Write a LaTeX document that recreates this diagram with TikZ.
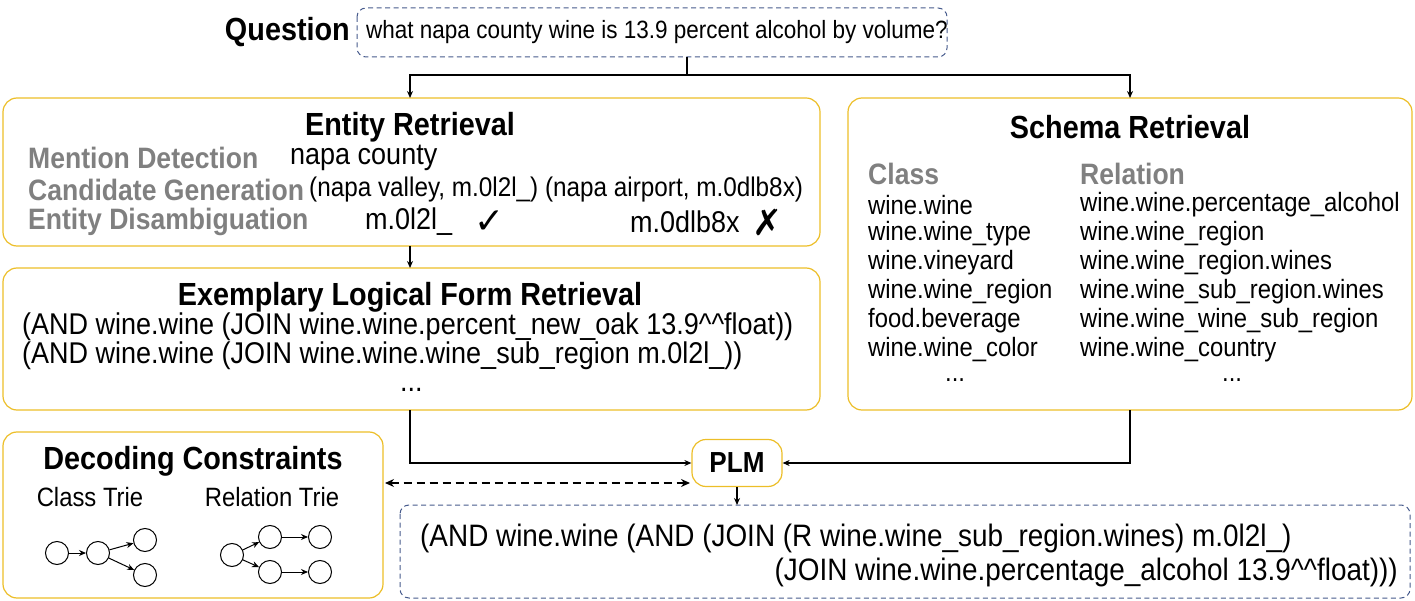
\documentclass[tikz,border=0pt]{standalone}
\usepackage{fontspec}
\setmainfont{Liberation Sans}[FakeStretch=0.9]
\newfontfamily\sym{DejaVu Sans}
\usetikzlibrary{arrows.meta}
\definecolor{yel}{RGB}{236,190,40}
\definecolor{blu}{RGB}{70,90,140}
\definecolor{gr}{RGB}{128,128,128}
\newcommand\fs[1]{\fontsize{#1}{#1}\selectfont}
\tikzset{
 ybox/.style={draw=yel,line width=1.2pt,rounded corners=14pt},
 dbox/.style={draw=blu,dash pattern=on 5pt off 3.5pt,line width=1pt,rounded corners=9pt},
 arr/.style={-{Stealth[length=7pt,width=6pt]},line width=1.2pt},
 lbl/.style={inner sep=0,anchor=west},
 ttl/.style={inner sep=0,font=\fs{32}\bfseries},
 gl/.style={lbl,text=gr,font=\fs{29.5}\bfseries},
 tx/.style={lbl,font=\fs{30}},
 sm/.style={lbl,font=\fs{26.5}},
 cir/.style={draw,circle,minimum size=23pt,inner sep=0,line width=1pt},
 tarr/.style={-{Stealth[length=7pt,width=6pt]},line width=1pt}
}
\begin{document}
\begin{tikzpicture}[x=1pt,y=-1pt]
\useasboundingbox (0,0) rectangle (1415,601);
% question
\node[ttl,anchor=east] (ql) at (350,32) {Question};
\draw[dbox] (357,8) rectangle (947,57);
\node[lbl,font=\fs{25}] (q) at (366,32) {what napa county wine is 13.9 percent alcohol by volume?};
\coordinate (qb) at (687,57);
\coordinate (qj) at (687,75);
% boxes
\draw[ybox] (3,98) rectangle (820,246);
\draw[ybox] (848,98) rectangle (1412,410);
\draw[ybox] (3,268) rectangle (820,410);
\draw[ybox] (3,432) rectangle (383,598);
\node[ybox,minimum width=90pt,minimum height=47pt,font=\fs{29}\bfseries] (plm) at (737,463) {PLM};
\draw[dbox] (400,505) rectangle (1410,598);
% connectors
\coordinate (eT) at (410,98); \coordinate (sT) at (1130,98);
\draw[line width=1.2pt] (qb) -- (qj);
\draw[arr] (qj) -| (eT);
\draw[arr] (qj) -| (sT);
\coordinate (eB) at (410,246); \coordinate (xT) at (410,268);
\draw[arr] (eB) -- (xT);
\coordinate (xB) at (410,410); \coordinate (sB) at (1130,410);
\draw[arr] (xB) |- (plm.west);
\draw[arr] (sB) |- (plm.east);
\coordinate (dR) at (385,483); \coordinate (pL) at (690,483);
\draw[{Stealth[length=9pt,width=8pt]}-{Stealth[length=9pt,width=8pt]},dash pattern=on 8pt off 5pt,line width=1.3pt] (dR) -- (pL);
\coordinate (oT) at (737,505);
\draw[arr] (plm.south) -- (oT);
% entity retrieval
\node[ttl] (et) at (410,127) {Entity Retrieval};
\node[gl] at (28,158) {Mention Detection};
\node[tx] at (290,158) {napa county};
\node[gl] at (28,190) {Candidate Generation};
\node[lbl,font=\fs{27}] at (309,190) {(napa valley, m.0l2l\_) (napa airport, m.0dlb8x)};
\node[gl] at (28,222) {Entity Disambiguation};
\node[tx] at (365,222) {m.0l2l\_};
\node[lbl,font=\fs{36}\sym] at (474,222) {✓};
\node[tx] at (630,222) {m.0dlb8x};
\node[lbl,font=\fs{36}\sym\bfseries] at (752,222) {✗};
% schema
\node[ttl] at (1130,127) {Schema Retrieval};
\node[gl] at (868,174) {Class};
\node[gl] at (1080,174) {Relation};
\foreach \t [count=\i] in {wine.wine,wine.wine\_type,wine.vineyard,wine.wine\_region,food.beverage,wine.wine\_color}
  \node[sm] at (868,176+\i*29) {\t};
\foreach \t [count=\i] in {wine.wine.percentage\_alcohol,wine.wine\_region,wine.wine\_region.wines,wine.wine\_sub\_region.wines,wine.wine\_wine\_sub\_region,wine.wine\_country}
  \node[sm] at (1080,176+\i*29) {\t};
\node[sm] at (945,380) {...};
\node[sm] at (1222,380) {...};
% exemplary
\node[ttl] at (410,297) {Exemplary Logical Form Retrieval};
\node[tx] at (22,327) {(AND wine.wine (JOIN wine.wine.percent\_new\_oak 13.9\^{}\^{}float))};
\node[tx] at (22,356) {(AND wine.wine (JOIN wine.wine.wine\_sub\_region m.0l2l\_))};
\node[tx] at (400,390) {...};
% decoding
\node[ttl] at (193,461) {Decoding Constraints};
\node[inner sep=0,font=\fs{26.5}] at (90,497) {Class Trie};
\node[inner sep=0,font=\fs{26.5}] at (272,497) {Relation Trie};
\node[cir] (c1) at (57,553) {}; \node[cir] (c2) at (98,553) {};
\node[cir] (c3) at (145,540) {}; \node[cir] (c4) at (145,575) {};
\draw[tarr] (c1)--(c2); \draw[tarr] (c2)--(c3); \draw[tarr] (c2)--(c4);
\node[cir] (r1) at (232,555) {}; \node[cir] (r2) at (270,537) {};
\node[cir] (r3) at (320,537) {}; \node[cir] (r4) at (270,572) {};
\node[cir] (r5) at (320,572) {};
\draw[tarr] (r1)--(r2); \draw[tarr] (r1)--(r4); \draw[tarr] (r2)--(r3); \draw[tarr] (r4)--(r5);
% output
\node[lbl,font=\fs{31}] at (420,538) {(AND wine.wine (AND (JOIN (R wine.wine\_sub\_region.wines) m.0l2l\_)};
\node[lbl,anchor=east,font=\fs{31}] at (1398,572) {(JOIN wine.wine.percentage\_alcohol 13.9\^{}\^{}float)))};
\end{tikzpicture}
\end{document}
